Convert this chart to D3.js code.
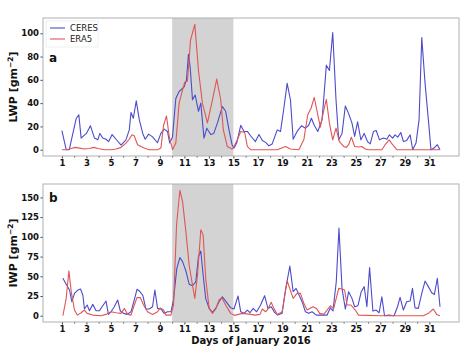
<!DOCTYPE html>
<html>
<head>
<meta charset="utf-8">
<script src="https://cdn.jsdelivr.net/npm/d3@7"></script>
<style>
body { margin: 0; background: #fff; }
text { font-family: "DejaVu Sans", sans-serif; }
</style>
</head>
<body>
<div id="chart"></div>
<script>
// [day, value] vertices
var ceresLWP = [[1.0,16.5],[1.35,0],[1.6,0],[2.17,27],[2.38,30],[2.57,10],[3.0,14],[3.33,20.5],[3.66,10],[3.93,8.5],[4.1,14],[4.33,10],[4.6,9],[4.82,7],[5.1,13],[5.42,9],[5.83,4],[6.23,8.5],[6.5,17],[6.64,32],[6.83,27],[7.07,42],[7.32,25.6],[7.6,14],[7.8,9],[8.08,13.4],[8.4,11],[8.8,6],[9.08,14],[9.35,17.7],[9.62,15.7],[9.8,5.7],[10.03,11],[10.3,44],[10.57,50],[10.98,54],[11.17,60],[11.33,82],[11.47,71],[11.66,43],[11.88,47],[12.15,33],[12.34,40],[12.6,10],[12.83,18.5],[13.15,13],[13.4,14],[13.7,23],[14.1,37],[14.37,33],[14.64,17],[14.9,4],[15.05,1.4],[15.27,5.7],[15.6,21],[15.87,15.7],[16.14,15.7],[16.4,12],[16.8,7],[17.09,13],[17.36,8],[17.63,6.3],[17.9,3.4],[18.17,5],[18.58,17],[18.85,15.7],[19.12,35.6],[19.39,57],[19.66,42.7],[19.88,9],[20.2,15.7],[20.56,20.5],[20.88,18.5],[21.15,21],[21.37,27],[21.6,21],[21.89,15.7],[22.24,25.6],[22.59,72.6],[22.84,68],[23.11,100.6],[23.38,42.7],[23.6,8.5],[23.87,14],[24.14,37.6],[24.41,31],[24.68,23],[24.9,11.4],[25.14,24],[25.41,8.5],[25.68,14],[25.95,7],[26.17,5],[26.44,15.7],[26.66,16.5],[26.93,8.5],[27.26,10],[27.53,9],[27.74,12.8],[28.0,10],[28.2,12.8],[28.42,10.8],[28.67,14.8],[28.88,7],[29.15,8],[29.43,12.8],[29.64,0],[29.91,5.7],[30.16,25.6],[30.38,96.3],[30.65,57],[30.92,25.6],[31.13,0],[31.38,1.4],[31.65,4.3],[31.87,0]];

var era5LWP = [[1.0,0],[1.35,0],[1.76,1],[2.08,2],[2.44,1.4],[2.84,0.6],[3.25,1],[3.6,2],[3.93,1],[4.47,0],[5.0,0],[5.42,0.6],[5.83,2],[6.23,5.7],[6.5,9],[6.72,12.8],[6.9,12],[7.18,4.3],[7.45,2.8],[7.73,1.4],[8.1,0],[8.8,0],[9.08,1.4],[9.3,21],[9.54,29],[9.76,11.4],[10.03,0],[10.3,5.7],[10.57,40],[10.84,51],[11.03,58],[11.25,59],[11.5,94],[11.85,107.7],[12.15,68],[12.47,40],[12.88,23],[13.29,42.7],[13.64,60.7],[13.97,42.7],[14.18,17],[14.5,2.8],[14.9,0.6],[15.05,2.8],[15.32,8.5],[15.6,15.7],[15.92,14.8],[16.14,2.8],[16.41,0],[18.58,0],[19.26,2.8],[19.66,0.6],[20.34,0],[20.75,8.5],[21.07,30],[21.34,35.6],[21.6,45],[21.89,30],[22.1,19.4],[22.38,34],[22.59,43.3],[22.84,22.8],[23.11,8.5],[23.38,18.5],[23.65,7],[24.0,2.8],[24.22,2],[24.41,4.3],[24.63,10.8],[24.9,2.8],[25.22,2.3],[25.49,2.8],[25.76,0.6],[26.04,0],[27.12,0],[27.39,4.3],[27.72,8.5],[28.0,4.3],[28.34,0],[31.87,0]];

var ceresIWP = [[1.08,47.5],[1.35,40],[1.62,32.6],[1.81,17.8],[2.03,28.4],[2.3,32.6],[2.52,33.9],[2.71,26],[2.84,8.5],[3.06,13.6],[3.25,6.4],[3.52,14.4],[3.79,6.4],[4.06,6.4],[4.28,11.4],[4.6,18.6],[4.8,1.7],[5.01,5],[5.28,11.4],[5.55,20],[5.77,6],[6.04,3],[6.32,1.7],[6.64,5],[6.91,20],[7.13,33.5],[7.32,31.4],[7.6,26],[7.86,8.5],[8.13,8.5],[8.4,11.4],[8.59,32.6],[8.81,9.3],[9.08,8.5],[9.35,3],[9.62,5],[9.9,5],[10.11,20],[10.38,60],[10.63,73.7],[10.85,68.6],[11.12,56.8],[11.39,40],[11.66,38],[11.93,43],[12.15,75],[12.34,82],[12.53,51.7],[12.74,22],[13.02,9.3],[13.29,4.2],[13.56,9.3],[13.83,17.8],[14.1,24],[14.37,18.6],[14.78,10],[15.05,8.5],[15.38,25],[15.6,5],[15.87,3],[16.14,7.2],[16.35,3.8],[16.62,9.3],[16.9,5],[17.22,13.6],[17.55,25.4],[17.82,9.3],[18.09,11.4],[18.36,4.2],[18.63,0.8],[18.98,3],[19.25,32.6],[19.61,63],[19.88,30.5],[20.12,34.7],[20.34,27],[20.61,17.8],[20.88,5],[21.15,3],[21.42,5],[21.78,0.8],[22.65,0.8],[22.92,10],[23.13,6],[23.4,43],[23.62,111],[23.87,34.7],[24.14,8.5],[24.41,30.5],[24.68,22],[24.9,11.4],[25.17,12.7],[25.44,30.5],[25.68,36.9],[25.9,11.4],[26.12,61],[26.39,6],[26.66,7.2],[26.9,3.8],[27.12,24],[27.34,0],[27.66,0.8],[28.12,0],[28.4,11.4],[28.61,23.3],[28.88,7.2],[29.15,17.8],[29.43,18.6],[29.62,34.7],[29.83,10],[30.1,9.3],[30.38,28.4],[30.65,44],[30.92,36.9],[31.19,29.2],[31.41,27],[31.65,47.5],[31.87,11.4]];

var era5IWP = [[1.08,0],[1.35,22],[1.57,56.8],[1.76,30.5],[2.03,7.2],[2.25,0.8],[2.57,3.8],[2.84,7.2],[3.06,3],[3.52,0.8],[4.2,0],[4.6,1.7],[5.01,5],[5.42,3.8],[5.83,3],[6.1,9.3],[6.37,1.7],[6.64,0.8],[6.91,13.6],[7.13,23],[7.4,23],[7.67,13.6],[7.99,5],[8.4,1.7],[8.81,5],[9.03,10],[9.3,7.2],[9.49,0.8],[9.9,0.8],[10.11,13.6],[10.36,115],[10.63,159],[10.85,145],[11.12,107],[11.39,64],[11.66,39],[11.85,22],[12.07,51.7],[12.34,109],[12.53,102.5],[12.74,47.5],[13.02,9.3],[13.29,3],[13.56,8.5],[13.83,20],[14.04,23],[14.37,13.6],[14.78,3],[15.05,0.8],[15.19,0.8],[15.73,3],[16.27,2],[16.8,0.8],[17.17,1.7],[17.36,8.5],[17.63,5],[17.82,8.5],[18.09,17],[18.3,9.3],[18.58,1.7],[18.98,5],[19.39,44],[19.88,22],[20.2,28.4],[20.48,28.4],[20.75,15.7],[21.02,7.2],[21.5,11.4],[21.78,9.3],[22.05,3],[22.38,1.7],[22.92,12.7],[23.19,9.3],[23.6,34.7],[23.87,33.9],[24.08,32.6],[24.28,13.6],[24.6,13.6],[24.95,7.2],[25.22,0.8],[26.98,0],[30.51,0],[30.92,3],[31.32,8.5],[31.6,1.7],[31.87,0]];

var dayTicks = d3.range(1, 32, 2),
	dayMinor = d3.range(2, 32, 2),
	lwpTicks = [0, 20, 40, 60, 80, 100],
	iwpTicks = [0, 25, 50, 75, 100, 125, 150],
	shadeDays = [10, 15],
	seriesNames = ["CERES", "ERA5"],
	seriesColors = ["#4b4bcc", "#e05656"];

var width = 474,
	height = 353,
	left = 43,
	right = 459;

var svg = d3.select('#chart')
	.append('svg')
	.attr('width', width)
	.attr('height', height);

var x = d3.scaleLinear()
	.domain([-0.544, 33.42])
	.range([left, right]);

function panel(top, bottom, ydom, yticks, ylabel, letter, a, b, legend) {
	var y = d3.scaleLinear().domain(ydom).range([bottom, top]);
	var g = svg.append('g');

	g.append('rect')
		.attr('x', x(shadeDays[0]))
		.attr('y', top)
		.attr('width', x(shadeDays[1]) - x(shadeDays[0]))
		.attr('height', bottom - top)
		.attr('fill', '#d3d3d3');

	var line = d3.line()
		.x(function(d) { return x(d[0]); })
		.y(function(d) { return y(d[1]); });

	[a, b].forEach(function(s, i) {
		g.append('path')
			.datum(s)
			.attr('d', line)
			.attr('fill', 'none')
			.attr('stroke', seriesColors[i])
			.attr('stroke-width', 1.1)
			.attr('stroke-linejoin', 'round');
	});

	// axes
	g.append('g')
		.attr('transform', 'translate(0,' + bottom + ')')
		.call(d3.axisBottom(x).tickValues(dayTicks).tickSize(2.5).tickPadding(1.5).tickFormat(d3.format('d')));
	g.append('g')
		.attr('transform', 'translate(0,' + bottom + ')')
		.call(d3.axisBottom(x).tickValues(dayMinor).tickSize(1.5).tickFormat(''));
	g.append('g')
		.attr('transform', 'translate(' + left + ',0)')
		.call(d3.axisLeft(y).tickValues(yticks).tickSize(2.5).tickPadding(1.5));

	g.selectAll('.domain').remove();
	g.selectAll('.tick line').attr('stroke', '#444');
	g.selectAll('.tick text')
		.attr('font-family', 'DejaVu Sans')
		.attr('font-weight', 'bold')
		.attr('font-size', 8.5)
		.attr('fill', '#111');

	g.append('rect')
		.attr('x', left).attr('y', top)
		.attr('width', right - left).attr('height', bottom - top)
		.attr('fill', 'none')
		.attr('stroke', '#b0b0b0')
		.attr('stroke-width', 1);

	var yl = g.append('text')
		.attr('transform', 'translate(17,' + (top + bottom) / 2 + ') rotate(-90)')
		.attr('text-anchor', 'middle')
		.attr('font-weight', 'bold')
		.attr('font-size', 11)
		.attr('fill', '#111');
	yl.append('tspan').text(ylabel + ' [gm');
	yl.append('tspan').attr('baseline-shift', 'super').attr('font-size', 7.5).text('\u22122');
	yl.append('tspan').text(']');

	g.append('text')
		.attr('x', 49)
		.attr('y', legend ? top + 44 : top + 18)
		.attr('font-weight', 'bold')
		.attr('font-size', 12)
		.attr('fill', '#111')
		.text(letter);

	if (legend) {
		var lg = g.append('g');
		lg.append('rect')
			.attr('x', 46).attr('y', top + 3)
			.attr('width', 52).attr('height', 26)
			.attr('fill', '#fff').attr('fill-opacity', 0.85)
			.attr('stroke', '#eee');
		seriesNames.forEach(function(n, i) {
			var yy = top + 10 + i * 11;
			lg.append('line')
				.attr('x1', 50).attr('x2', 65)
				.attr('y1', yy).attr('y2', yy)
				.attr('stroke', seriesColors[i])
				.attr('stroke-width', 1.1);
			lg.append('text')
				.attr('x', 70).attr('y', yy + 3)
				.attr('font-size', 8.5)
				.attr('fill', '#222')
				.text(n);
		});
	}
}

panel(18, 156, [-5.39, 113.1], lwpTicks, 'LWP', 'a', ceresLWP, era5LWP, true);
panel(184, 322, [-7.95, 167], iwpTicks, 'IWP', 'b', ceresIWP, era5IWP, false);

svg.append('text')
	.attr('x', (left + right) / 2)
	.attr('y', 344)
	.attr('text-anchor', 'middle')
	.attr('font-weight', 'bold')
	.attr('font-size', 10)
	.attr('fill', '#111')
	.text('Days of January 2016');
</script>
</body>
</html>
